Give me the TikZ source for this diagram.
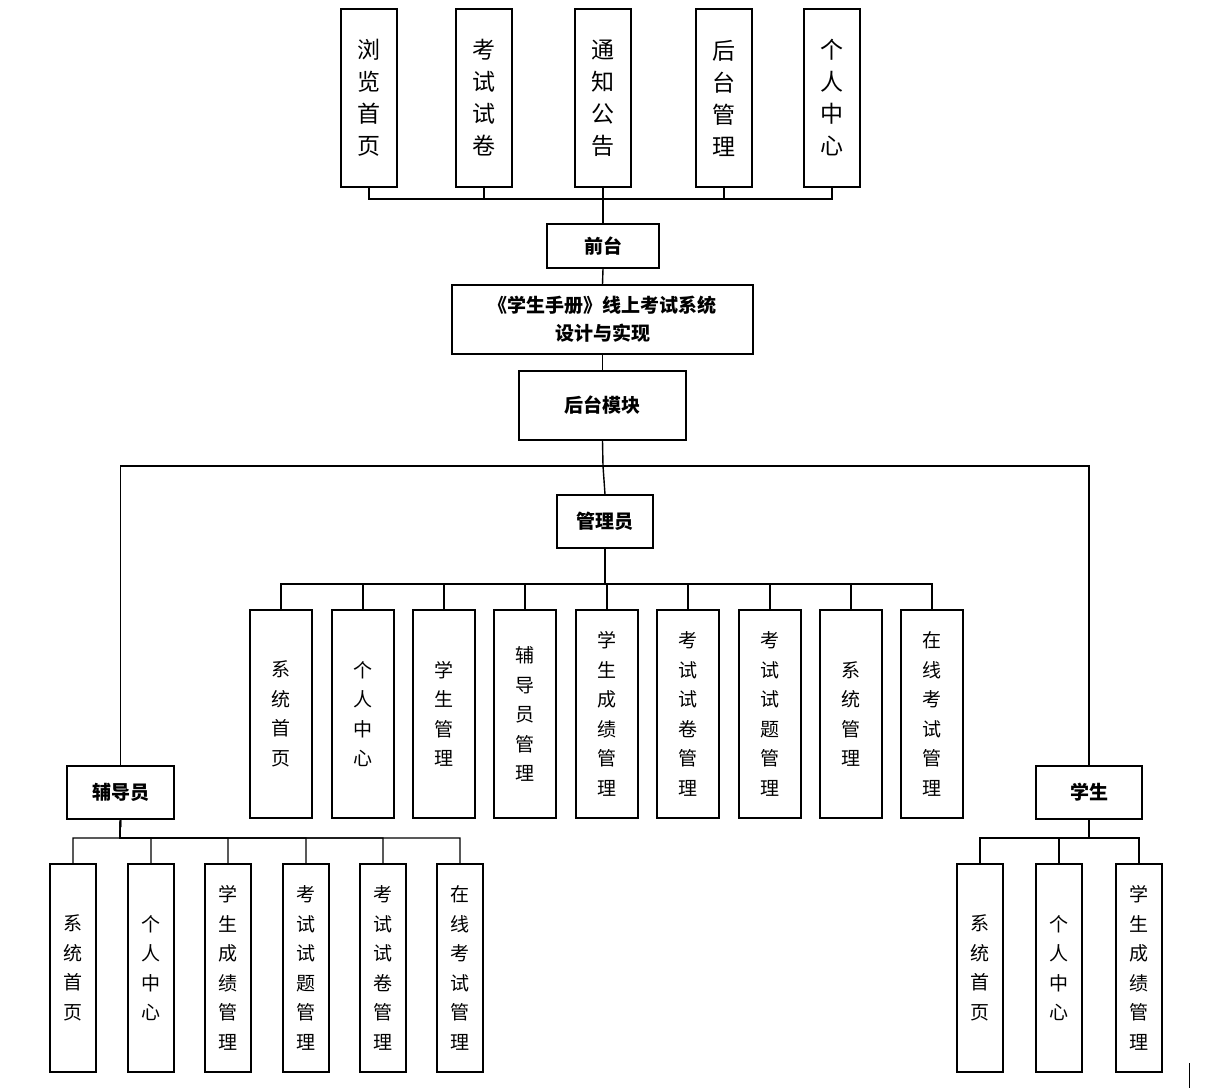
\documentclass[tikz,border=0pt]{standalone}
\usepackage{fontspec}
\setmainfont{Noto Sans CJK SC}
\begin{document}
\begin{tikzpicture}[x=1pt,y=-1pt,line width=1.4pt,
 box/.style={draw,fill=white,inner sep=0pt,align=center},
 vt/.style={box,minimum width=#1,font=\fontsize{19}{29.5}\selectfont},
 top/.style={box,minimum width=56,minimum height=178,font=\fontsize{23}{32}\selectfont},
 hb/.style={box,font=\bfseries\fontsize{19}{28}\selectfont}]
\useasboundingbox (0,0) rectangle (1223,1088);
% top
\foreach \n/\x/\t in {t1/369/浏\\览\\首\\页,t2/484/考\\试\\试\\卷,t3/603/通\\知\\公\\告,t4/724/后\\台\\管\\理,t5/832/个\\人\\中\\心}
  \node[top] (\n) at (\x,98) {\t};
\node[hb,minimum width=112,minimum height=44] (qt) at (603,246) {前台};
\node[hb,minimum width=301,minimum height=69] (title) at (602.5,319.5) {《学生手册》线上考试系统\\设计与实现};
\node[hb,minimum width=167,minimum height=69] (ht) at (602.5,405.5) {后台模块};
\node[hb,minimum width=96,minimum height=53] (adm) at (605,521.5) {管理员};
\node[hb,minimum width=107,minimum height=53] (fdy) at (120.5,792.5) {辅导员};
\node[hb,minimum width=106,minimum height=53] (stu) at (1089,792.5) {学生};
\coordinate (b1) at (603,199);
\coordinate (b2) at (603,466);
\coordinate (b3) at (605,584);
\coordinate (b4) at (120,838);
\coordinate (b5) at (1089,838);
\foreach \n in {t1,t2,t3,t4,t5} \draw (\n.south) |- (b1) -- (qt.north);
\draw (qt.south) -- (title.north);
\draw (title.south) -- (ht.north);
\draw (ht.south) -- (b2) -- (adm.north);
\draw (b2) -| (fdy.north);
\draw (b2) -| (stu.north);
% admin children
\foreach \n/\x/\t in {a1/281/系\\统\\首\\页,a2/363/个\\人\\中\\心,a3/444/学\\生\\管\\理,a4/525/辅\\导\\员\\管\\理,a5/607/学\\生\\成\\绩\\管\\理,a6/688/考\\试\\试\\卷\\管\\理,a7/770/考\\试\\试\\题\\管\\理,a8/851/系\\统\\管\\理,a9/932/在\\线\\考\\试\\管\\理}
  {\node[vt=62,minimum height=208] (\n) at (\x,714) {\t};
   \draw (adm.south) -- (b3) -| (\n.north);}
\foreach \n/\x/\t in {f1/73/系\\统\\首\\页,f2/151/个\\人\\中\\心,f3/228/学\\生\\成\\绩\\管\\理,f4/306/考\\试\\试\\题\\管\\理,f5/383/考\\试\\试\\卷\\管\\理,f6/460/在\\线\\考\\试\\管\\理}
  {\node[vt=46,minimum height=208] (\n) at (\x,968) {\t};
   \draw (fdy.south) -- (b4) -| (\n.north);}
\foreach \n/\x/\t in {s1/980/系\\统\\首\\页,s2/1059/个\\人\\中\\心,s3/1139/学\\生\\成\\绩\\管\\理}
  {\node[vt=46,minimum height=208] (\n) at (\x,968) {\t};
   \draw (stu.south) -- (b5) -| (\n.north);}
\coordinate (m1) at (1189,1063); \coordinate (m2) at (1189,1088);
\draw[line width=1pt] (m1) -- (m2);
\end{tikzpicture}
\end{document}
